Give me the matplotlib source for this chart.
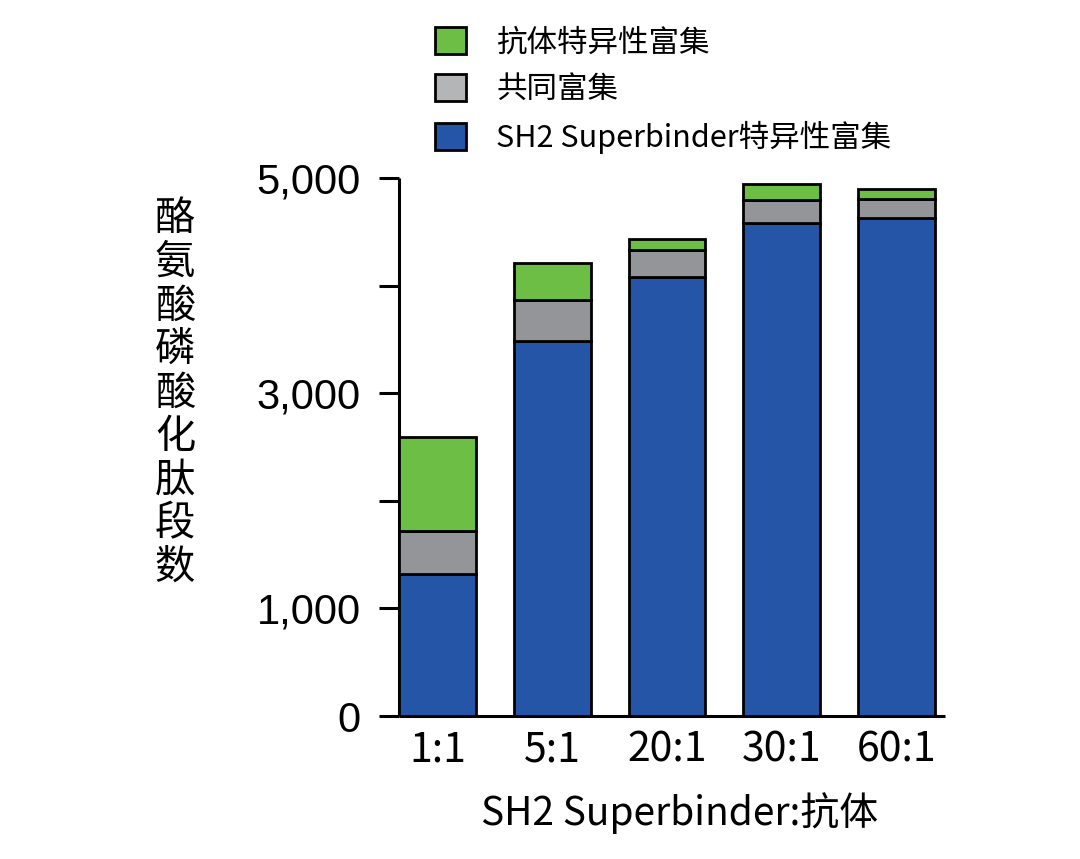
import matplotlib
matplotlib.use("Agg")
import matplotlib.pyplot as plt
from matplotlib.patches import Patch
import numpy as np

categories = ["1:1", "5:1", "20:1", "30:1", "60:1"]
sh2_specific = [1320, 3488, 4083, 4578, 4624]
common = [400, 381, 244, 217, 183]
antibody_specific = [870, 344, 109, 145, 93]
yticks = [0, 1000, 2000, 3000, 4000, 5000]
ytick_labels = ["0", "1,000", "", "3,000", "", "5,000"]
legend_labels = ["抗体特异性富集", "共同富集", "SH2 Superbinder特异性富集"]
ylabel = "酪氨酸磷酸化肽段数"
xlabel = "SH2 Superbinder:抗体"

blue = "#2455A6"
gray = "#939598"
green = "#6CBE45"
legend_gray = "#B4B5B7"

cjk = ["Noto Sans CJK SC", "DejaVu Sans"]

fig = plt.figure(figsize=(10.8, 8.59), dpi=100)
ax = fig.add_axes([399/1080, 1-716/859, 546/1080, 538/859])

x = np.arange(len(categories))
w = 0.67
lw = 2.0
b1 = ax.bar(x, sh2_specific, w, color=blue, edgecolor="black", linewidth=lw, zorder=3)
bottom2 = np.array(sh2_specific)
b2 = ax.bar(x, common, w, bottom=bottom2, color=gray, edgecolor="black", linewidth=lw, zorder=3)
bottom3 = bottom2 + np.array(common)
b3 = ax.bar(x, antibody_specific, w, bottom=bottom3, color=green, edgecolor="black", linewidth=lw, zorder=3)

ax.set_xlim(-w/2, 4.423)
ax.set_ylim(0, 5000)
for s in ["top", "right"]:
    ax.spines[s].set_visible(False)
for s in ["left", "bottom"]:
    ax.spines[s].set_linewidth(2.2)
    ax.spines[s].set_capstyle("butt")

ax.set_yticks(yticks)
ax.set_yticklabels(ytick_labels, fontfamily="Liberation Sans", fontsize=30)
ax.tick_params(axis="y", length=14.4, width=2.2, pad=13, direction="out")
ax.set_xticks(x)
ax.set_xticklabels(categories, fontfamily=cjk, fontsize=29.5)
ax.tick_params(axis="x", length=0, pad=10)

ax.set_ylabel("\n".join(ylabel), rotation=0, fontfamily=cjk, fontsize=29,
              va="center", ha="center", linespacing=1.08)
ax.yaxis.set_label_coords((175-399)/546, (716-393)/538)
ax.set_xlabel(xlabel, fontfamily=cjk, fontsize=28, va="center", ha="center")
ax.xaxis.set_label_coords((680-399)/546, (716-813)/538)

handles = [Patch(facecolor=green, edgecolor="black", linewidth=2.0),
           Patch(facecolor=legend_gray, edgecolor="black", linewidth=2.0),
           Patch(facecolor=blue, edgecolor="black", linewidth=2.0)]
leg = fig.legend(handles, legend_labels, loc="upper left",
                 bbox_to_anchor=(435/1080, 1-27/859), bbox_transform=fig.transFigure,
                 frameon=False, borderpad=0, borderaxespad=0,
                 handlelength=1.0, handleheight=1.0, handletextpad=1.0,
                 labelspacing=0.52, prop={"family": cjk, "size": 22})

fig.savefig("out.png", dpi=100)
